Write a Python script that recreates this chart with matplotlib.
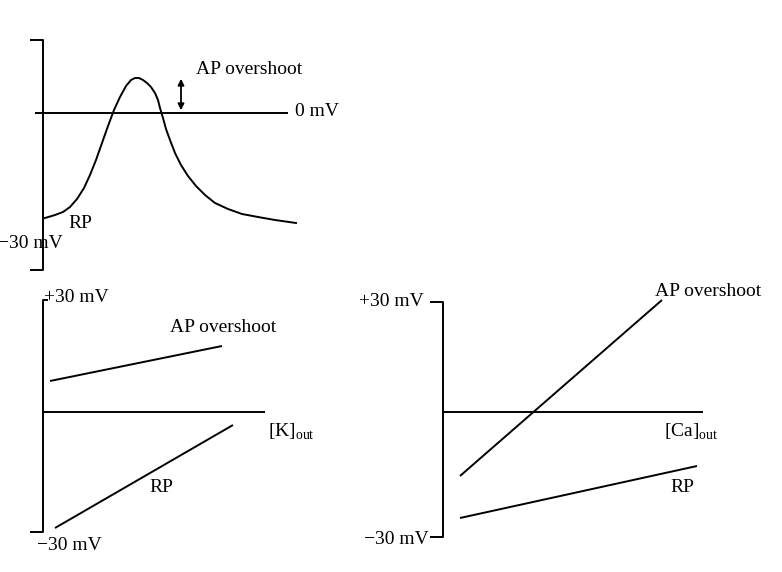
import matplotlib
matplotlib.use("Agg")
import matplotlib.pyplot as plt

plt.rcParams['font.family'] = ['Liberation Serif', 'DejaVu Serif']
plt.rcParams['mathtext.fontset'] = 'custom'
plt.rcParams['mathtext.rm'] = 'Liberation Serif'

# Diagram geometry in pixel units of the reference (x right, y down)
ap_x = [45, 55, 63, 70, 77, 84, 90, 96, 102, 108, 114, 120, 126, 131, 135, 139, 143, 147, 151, 155, 158, 160, 163, 166, 170, 175, 181, 188, 196, 205, 215, 228, 242, 258, 275, 296]
ap_y = [218, 215, 212, 207, 199, 188, 175, 160, 143, 126, 110, 97, 86, 80, 78, 78, 80, 83, 87, 93, 100, 108, 118, 129, 140, 153, 165, 176, 186, 195, 203, 209, 214, 217, 220, 223]
k_ap = ([50, 222], [381, 346])
k_rp = ([55, 233], [528, 425])
ca_ap = ([460, 662], [476, 300])
ca_rp = ([460, 697], [518, 466])

fig = plt.figure(figsize=(7.82, 5.72), dpi=100)
ax = fig.add_axes([0, 0, 1, 1])
ax.set_xlim(0, 782); ax.set_ylim(572, 0); ax.axis('off')
kw = dict(color='black', lw=1.4, solid_capstyle='butt')
fs = 14
sub = r'$_{\mathregular{out}}$'

# top panel
ax.plot([30, 43, 43, 30], [40, 40, 270, 270], **kw)
ax.plot([35, 288], [113, 113], **kw)
ax.plot(ap_x, ap_y, color='black', lw=1.4)
ax.annotate('', xy=(181, 76), xytext=(181, 113), arrowprops=dict(arrowstyle='<|-|>', color='black', lw=1.3, mutation_scale=9))
ax.text(196, 70, 'AP overshoot', fontsize=fs, va='center')
ax.text(295, 112, '0 mV', fontsize=fs, va='center')
ax.text(68, 223, 'RP', fontsize=fs, va='center')
ax.text(-2, 243, '−30 mV', fontsize=fs, va='center')

# bottom left
ax.plot([48, 43, 43, 30], [300, 300, 532, 532], **kw)
ax.plot([43, 265], [412, 412], **kw)
ax.plot(*k_ap, **kw); ax.plot(*k_rp, **kw)
ax.text(44, 297, '+30 mV', fontsize=fs, va='center')
ax.text(170, 328, 'AP overshoot', fontsize=fs, va='center')
ax.text(268, 432, '[K]' + sub, fontsize=fs, va='center')
ax.text(149, 488, 'RP', fontsize=fs, va='center')
ax.text(37, 545, '−30 mV', fontsize=fs, va='center')

# bottom right
ax.plot([430, 443, 443, 430], [302, 302, 537, 537], **kw)
ax.plot([443, 703], [412, 412], **kw)
ax.plot(*ca_ap, **kw); ax.plot(*ca_rp, **kw)
ax.text(359, 301, '+30 mV', fontsize=fs, va='center')
ax.text(655, 291, 'AP overshoot', fontsize=fs, va='center')
ax.text(664, 432, '[Ca]' + sub, fontsize=fs, va='center')
ax.text(670, 487, 'RP', fontsize=fs, va='center')
ax.text(364, 540, '−30 mV', fontsize=fs, va='center')

fig.savefig('out.png', dpi=100)
